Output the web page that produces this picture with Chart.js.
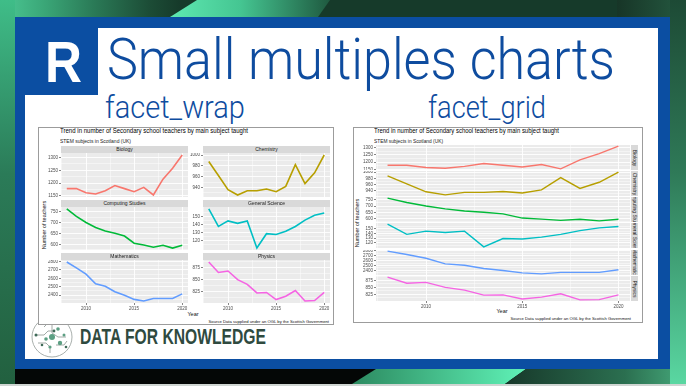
<!DOCTYPE html>
<html>
<head>
<meta charset="utf-8">
<script src="https://cdn.jsdelivr.net/npm/chart.js@4.4.0/dist/chart.umd.min.js"></script>
<style>
html, body { margin: 0; padding: 0; width: 686px; height: 386px; overflow: hidden; background: #040706; font-family: "Liberation Sans", Arial, sans-serif; }
.a { position: absolute; white-space: nowrap; }
.head { font-family: Roboto, "Liberation Sans", sans-serif; font-weight: 300; color: #0e4c9f; }
.box { position: absolute; background: #fff; border: 1px solid #9c9c9c; box-sizing: border-box; }
.strip { position: absolute; background: #d9d9d9; color: #1a1a1a; font-size: 5px; line-height: 7px; text-align: center; overflow: hidden; }
.vstrip { position: absolute; background: #d9d9d9; overflow: hidden; }
.vstrip span { position: absolute; left: 50%; top: 50%; transform: translate(-50%, -50%) rotate(90deg); font-size: 5px; color: #1a1a1a; white-space: nowrap; }
canvas { position: absolute; }
</style>
</head>
<body>

<!-- background around the frame -->
<div class="a" style="left:0;top:0;width:686px;height:17px;background:linear-gradient(90deg,#4cc995 0px,#3aa677 45px,#2a7956 95px,#1c4c36 150px,#163a2a 180px)"></div>
<div class="a" style="left:0;top:0;width:686px;height:17px;clip-path:polygon(170px 17px,197px 0,330px 0,318px 17px);background:linear-gradient(90deg,#5ee8b1 170px,#45c692 240px,#1f5a40 330px)"></div>
<div class="a" style="left:617px;top:0;width:69px;height:17px;background:linear-gradient(90deg,#173527,#255a41)"></div>
<div class="a" style="left:0;top:0;width:15px;height:386px;background:linear-gradient(180deg,#3fbd88,#2b7b58 45%,#22603f)"></div>
<div class="a" style="left:670px;top:0;width:16px;height:386px;background:linear-gradient(180deg,#1d4a35,#2f7a58 45%,#5ad8a2)"></div>
<div class="a" style="left:352px;top:369px;width:318px;height:15px;clip-path:polygon(0 15px,24px 0,174px 0,153px 15px);background:linear-gradient(90deg,#2c8a60,#5ef0b5 170px)"></div>
<div class="a" style="left:505px;top:369px;width:165px;height:15px;clip-path:polygon(0 15px,21px 0,165px 0,165px 15px);background:linear-gradient(90deg,#17382a,#2b6f50 120px,#3f9a70)"></div>
<div class="a" style="left:0;top:384px;width:686px;height:2px;background:#cfd5d2"></div>

<!-- blue frame and white card -->
<div class="a" style="left:15px;top:17px;width:655px;height:352px;background:#0b4ea2"></div>
<div class="a" style="left:98px;top:28px;width:560px;height:70px;background:#fff"></div>
<div class="a" style="left:25px;top:95px;width:633px;height:264px;background:#fff"></div>

<div class="a fit" data-w="37" style="left:45px;top:33px;font-size:58px;line-height:58px;font-weight:bold;color:#fff">R</div>
<div class="a fit head" data-w="508" style="left:107px;top:30px;font-size:58px;line-height:58px">Small multiples charts</div>
<div class="a fit head" data-w="140" style="left:105px;top:92px;font-size:31px;line-height:31px">facet_wrap</div>
<div class="a fit head" data-w="118" style="left:428px;top:92px;font-size:31px;line-height:31px">facet_grid</div>

<!-- logo -->
<svg class="a" style="left:30px;top:315px" width="45" height="45" viewBox="0 0 45 45">
  <circle cx="22" cy="22" r="20" fill="none" stroke="#a9b0ad" stroke-width="1"/>
  <g stroke="#8a9590" stroke-width="0.8" fill="none">
    <path d="M6 20 H14 L18 16 H24"/><path d="M8 28 H16 L20 32 V38"/><path d="M22 10 V18 L28 22 H36"/><path d="M26 30 H34 L37 26"/><path d="M14 12 L18 8"/>
  </g>
  <g fill="#5c9f83">
    <circle cx="22" cy="22" r="3"/><circle cx="30" cy="28" r="2.2"/><circle cx="16" cy="24" r="1.8"/><circle cx="28" cy="14" r="1.8"/><circle cx="20" cy="32" r="1.6"/><circle cx="34" cy="20" r="1.5"/>
  </g>
  <g fill="#3f6a58">
    <circle cx="6" cy="20" r="1.5"/><circle cx="24" cy="16" r="1.4"/><circle cx="18" cy="8" r="1.5"/><circle cx="12" cy="30" r="1.3"/><circle cx="36" cy="32" r="1.3"/>
  </g>
</svg>
<div class="a fit" data-w="186" style="left:80px;top:326px;font-size:22px;line-height:22px;font-weight:bold;color:#2f4a3f">DATA FOR KNOWLEDGE</div>

<!-- chart cards -->
<div class="box" style="left:38px;top:127px;width:296px;height:198px"></div>
<div class="box" style="left:353px;top:127px;width:290px;height:196px"></div>

<div class="a fit" data-w="188" style="left:60px;top:127px;font-size:6.5px;line-height:8px;color:#000">Trend in number of Secondary school teachers by main subject taught</div>
<div class="a fit" data-w="71" style="left:60px;top:138px;font-size:5px;line-height:6px;color:#222">STEM subjects in Scotland (UK)</div>
<div class="a fit" data-w="185" style="left:374px;top:127px;font-size:6.5px;line-height:8px;color:#000">Trend in number of Secondary school teachers by main subject taught</div>
<div class="a fit" data-w="69" style="left:374px;top:138px;font-size:5px;line-height:6px;color:#222">STEM subjects in Scotland (UK)</div>

<div class="a" style="left:44px;top:225px;font-size:5.5px;color:#111;transform:translate(-50%,-50%) rotate(-90deg)">Number of teachers</div>
<div class="a" style="left:357px;top:223px;font-size:5.5px;color:#111;transform:translate(-50%,-50%) rotate(-90deg)">Number of teachers</div>
<div class="a" style="left:193px;top:314px;font-size:5.5px;color:#111;transform:translate(-50%,-50%)">Year</div>
<div class="a" style="left:502px;top:311px;font-size:5.5px;color:#111;transform:translate(-50%,-50%)">Year</div>
<div class="a" style="left:329px;top:321px;font-size:4.2px;color:#111;transform:translate(-100%,-50%)">Source Data supplied under an OGL by the Scottish Government</div>
<div class="a" style="left:631px;top:318px;font-size:4.2px;color:#111;transform:translate(-100%,-50%)">Source Data supplied under an OGL by the Scottish Government</div>

<script>
const years = [2008, 2009, 2010, 2011, 2012, 2013, 2014, 2015, 2016, 2017, 2018, 2019, 2020];
const subjects = ['Biology', 'Chemistry', 'Computing Studies', 'General Science', 'Mathematics', 'Physics'];

const biology = [1178, 1178, 1162, 1157, 1170, 1190, 1178, 1166, 1183, 1153, 1215, 1258, 1310];
const chemistry = [988, 962, 936, 926, 934, 934, 937, 932, 942, 982, 947, 967, 1000];
const computing = [762, 728, 700, 677, 661, 651, 638, 605, 597, 587, 596, 583, 596];
const generalScience = [160, 138, 145, 142, 145, 111, 129, 128, 132, 138, 146, 152, 155];
const mathematics = [2795, 2725, 2650, 2535, 2505, 2440, 2400, 2350, 2330, 2360, 2360, 2360, 2415];
const physics = [887, 865, 868, 850, 840, 822, 823, 808, 815, 827, 805, 806, 823];

const yearTicks = [2010, 2015, 2020];
const biologyTicks = [1150, 1200, 1250, 1300];
const chemistryTicks = [940, 960, 980, 1000];
const computingTicks = [600, 650, 700, 750];
const generalScienceTicks = [120, 130, 140, 150];
const mathematicsTicks = [2400, 2500, 2600, 2700, 2800];
const physicsTicks = [825, 850, 875];

const colours = ['#F8766D', '#B79F00', '#00BA38', '#00BFC4', '#619CFF', '#F564E3'];
const series = [biology, chemistry, computing, generalScience, mathematics, physics];
const tickSets = [biologyTicks, chemistryTicks, computingTicks, generalScienceTicks, mathematicsTicks, physicsTicks];

// grey ggplot panel behind the grid
const panelBg = {
  id: 'panelBg',
  beforeDraw(chart) {
    const { ctx, chartArea: a } = chart;
    ctx.save();
    ctx.fillStyle = '#EBEBEB';
    ctx.fillRect(a.left, a.top, a.right - a.left, a.bottom - a.top);
    ctx.restore();
  }
};

function axis(min, max, majors, minors, isX, show, size) {
  const isMajor = c => c.tick && majors.includes(c.tick.value);
  return {
    type: 'linear', min: min, max: max,
    border: { display: false },
    afterBuildTicks: s => {
      s.ticks = majors.concat(minors).filter(v => v >= min && v <= max).map(v => ({ value: v }));
    },
    afterFit: s => {
      if (isX) s.height = size; else s.width = size;
      s.paddingLeft = s.paddingRight = s.paddingTop = s.paddingBottom = 0;
    },
    grid: {
      color: '#ffffff',
      lineWidth: c => isMajor(c) ? 0.9 : 0.45,
      drawTicks: show,
      tickLength: 2,
      tickWidth: 0.6,
      tickColor: c => isMajor(c) ? '#333333' : 'rgba(0,0,0,0)'
    },
    ticks: {
      display: show, autoSkip: false, maxRotation: 0, minRotation: 0, padding: 1,
      color: '#4d4d4d', font: { size: 4.5, family: 'Liberation Sans' },
      callback: v => majors.includes(v) ? String(v) : ''
    }
  };
}

function panel(i, x, y, w, h, showX, lineW) {
  const vals = series[i], majors = tickSets[i];
  const lo = Math.min(...vals), hi = Math.max(...vals), pad = (hi - lo) * 0.05;
  const step = majors[1] - majors[0];
  const minors = [majors[0] - step / 2].concat(majors.map(v => v + step / 2));
  const xMin = years[0] - 0.6, xMax = years[years.length - 1] + 0.6;
  const xMinors = yearTicks.map(v => v - 2.5);
  const yw = 24, xh = showX ? 9 : 0;

  const cv = document.createElement('canvas');
  cv.width = w + yw; cv.height = h + xh;
  cv.style.left = (x - yw) + 'px';
  cv.style.top = y + 'px';
  cv.style.width = (w + yw) + 'px';
  cv.style.height = (h + xh) + 'px';
  document.body.appendChild(cv);

  new Chart(cv, {
    type: 'line',
    data: {
      datasets: [{
        data: years.map((yr, k) => ({ x: yr, y: vals[k] })),
        borderColor: colours[i],
        borderWidth: lineW,
        pointRadius: 0,
        tension: 0,
        fill: false
      }]
    },
    options: {
      responsive: false,
      animation: false,
      events: [],
      layout: { padding: 0 },
      plugins: { legend: { display: false }, title: { display: false }, tooltip: { enabled: false } },
      scales: {
        x: axis(xMin, xMax, yearTicks, xMinors, true, showX, xh),
        y: axis(lo - pad, hi + pad, majors, minors, false, true, yw)
      }
    },
    plugins: [panelBg]
  });
}

function strip(text, x, y, w) {
  const d = document.createElement('div');
  d.className = 'strip';
  d.style.cssText = `left:${x}px;top:${y}px;width:${w}px;height:7px`;
  d.textContent = text;
  document.body.appendChild(d);
}

function vstrip(text, x, y, h) {
  const d = document.createElement('div');
  d.className = 'vstrip';
  d.style.cssText = `left:${x}px;top:${y}px;width:7px;height:${h}px`;
  const s = document.createElement('span');
  s.textContent = text;
  d.appendChild(s);
  document.body.appendChild(d);
}

// facet_wrap: 2 columns x 3 rows
const wrapCols = [61, 203];
const wrapRows = [[146, 44], [200, 43], [253, 43]];
subjects.forEach((name, i) => {
  const c = i % 2, r = Math.floor(i / 2);
  const x = wrapCols[c], top = wrapRows[r][0];
  strip(name, x, top, 127);
  panel(i, x, top + 7, 127, wrapRows[r][1], r === 2, 1.6);
});

// facet_grid: one column, strips on the right
const gridTops = [145, 171, 197, 223, 250, 276];
subjects.forEach((name, i) => {
  panel(i, 376, gridTops[i], 254, 25, i === 5, 1.4);
  vstrip(name, 631, gridTops[i], 25);
});

// squeeze text blocks to the measured widths
document.querySelectorAll('.fit').forEach(el => {
  const w = el.getBoundingClientRect().width;
  el.style.transformOrigin = 'left top';
  el.style.transform = `scaleX(${(+el.dataset.w) / w})`;
});
</script>
</body>
</html>
